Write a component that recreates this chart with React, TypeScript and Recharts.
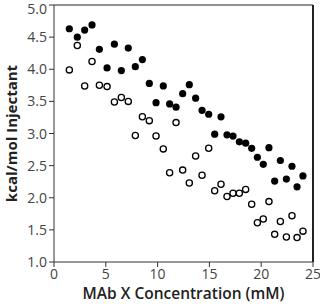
import { ScatterChart, Scatter, XAxis, YAxis, ReferenceLine } from "recharts"

// Injection concentration (mM) shared by both series
const concentration = [
  1.48, 2.25, 2.96, 3.67, 4.38, 5.12, 5.83, 6.5, 7.17, 7.85, 8.53, 9.2, 9.85,
  10.55, 11.16, 11.78, 12.42, 13.06, 13.67, 14.29, 14.93, 15.51, 16.12, 16.7,
  17.28, 17.89, 18.5, 19.08, 19.63, 20.2, 20.75, 21.3, 21.85, 22.43, 22.97,
  23.46, 24.03,
]

// heat per injection (kcal/mol), filled markers
const filledHeat = [
  4.63, 4.5, 4.61, 4.69, 4.31, 4.02, 4.39, 3.98, 4.33, 4.04, 4.15, 3.78, 3.48,
  3.74, 3.46, 3.41, 3.62, 3.76, 3.55, 3.36, 3.3, 2.99, 3.26, 2.98, 2.96, 2.87,
  2.85, 2.77, 2.63, 2.52, 2.78, 2.26, 2.58, 2.29, 2.49, 2.17, 2.34,
]

// heat per injection (kcal/mol), open markers
const openHeat = [
  3.99, 4.37, 3.74, 4.12, 3.75, 3.73, 3.49, 3.56, 3.5, 2.97, 3.26, 3.2, 2.96,
  2.76, 2.39, 3.17, 2.43, 2.23, 2.65, 2.35, 2.77, 2.11, 2.21, 2.02, 2.07, 2.07,
  2.13, 1.9, 1.61, 1.67, 1.94, 1.43, 1.63, 1.39, 1.72, 1.38, 1.48,
]

const xTicks = [0, 5, 10, 15, 20, 25]
const yTicks = [1.0, 1.5, 2.0, 2.5, 3.0, 3.5, 4.0, 4.5, 5.0]

const filledData = concentration.map((x, i) => ({ x, y: filledHeat[i] }))
const openData = concentration.map((x, i) => ({ x, y: openHeat[i] }))

const FONT = "'Open Sans', sans-serif"

const FilledDot = (props: any) => (
  <circle cx={props.cx} cy={props.cy} r={3.6} fill="#000" />
)
const OpenDot = (props: any) => (
  <circle cx={props.cx} cy={props.cy} r={3.1} fill="#fff" stroke="#000" strokeWidth={1.3} />
)

// y tick label; the top one is kept inside the canvas
const YTick = (props: any) => {
  const { x, y, payload } = props
  return (
    <text
      x={x}
      y={Math.max(y, 9)}
      dy={5}
      textAnchor="end"
      fontSize={14}
      fill="#444"
      fontFamily={FONT}
    >
      {Number(payload.value).toFixed(1)}
    </text>
  )
}

export default function App() {
  const tickStyle = { fontSize: 14, fill: "#444", fontFamily: FONT }
  return (
    <div style={{ position: "absolute", left: 0, top: 0, width: 320, height: 304, background: "#fff" }}>
      <ScatterChart width={320} height={304} margin={{ top: 5, right: 7, bottom: 0, left: 3 }}>
        <XAxis
          type="number"
          dataKey="x"
          domain={[0, 25]}
          ticks={xTicks}
          tick={tickStyle}
          tickSize={5}
          stroke="#333"
          height={42}
          label={{
            value: "MAb X Concentration (mM)",
            position: "insideBottom",
            offset: 5,
            style: { fontSize: 15.5, fontWeight: 600, fill: "#222", fontFamily: FONT },
          }}
        />
        <YAxis
          type="number"
          dataKey="y"
          domain={[1, 5]}
          ticks={yTicks}
          tick={<YTick />}
          tickSize={5}
          stroke="#333"
          width={51}
          label={{
            value: "kcal/mol Injectant",
            angle: -90,
            position: "insideLeft",
            offset: 9,
            style: { fontSize: 15, fontWeight: 700, fill: "#222", fontFamily: FONT, textAnchor: "middle" },
          }}
        />
        <ReferenceLine y={5} stroke="#222" strokeWidth={1.2} />
        <ReferenceLine x={25} stroke="#222" strokeWidth={2} />
        <Scatter data={openData} shape={OpenDot} isAnimationActive={false} />
        <Scatter data={filledData} shape={FilledDot} isAnimationActive={false} />
      </ScatterChart>
    </div>
  )
}
